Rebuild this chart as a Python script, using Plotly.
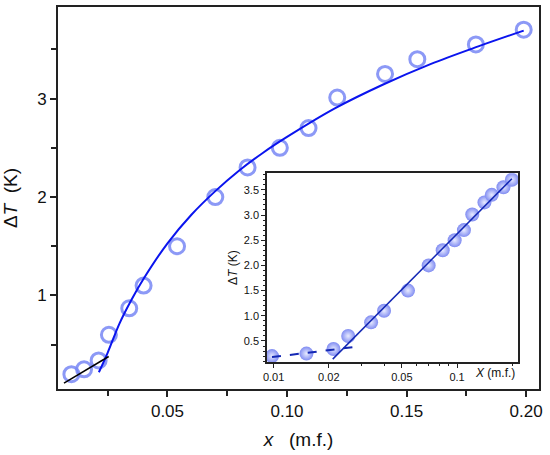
import plotly.graph_objects as go

# measured points (mole fraction, K)
x_data = [0.0098, 0.0151, 0.0212, 0.0255, 0.0340, 0.0400, 0.0540, 0.0700,
          0.0835, 0.0970, 0.1090, 0.1210, 0.1410, 0.1545, 0.1790, 0.1990]
dT_data = [0.20, 0.25, 0.34, 0.60, 0.87, 1.10, 1.50, 2.00,
           2.30, 2.50, 2.70, 3.01, 3.25, 3.40, 3.55, 3.70]

# fitted curve in main panel
fit_x = [0.0213, 0.025, 0.03, 0.035, 0.04, 0.05, 0.06, 0.07,
         0.08, 0.09, 0.10, 0.12, 0.14, 0.16, 0.18, 0.199]
fit_y = [0.22, 0.42, 0.72, 0.96, 1.17, 1.53, 1.82, 2.06,
         2.27, 2.45, 2.61, 2.90, 3.14, 3.35, 3.53, 3.69]

# low-concentration line (main panel)
low_x = [0.0067, 0.0254]
low_y = [0.11, 0.38]

# inset lines (log x)
ins_fit_x = [0.021, 0.199]
ins_fit_y = [0.14, 3.72]
ins_low_x = [0.0098, 0.029]
ins_low_y = [0.18, 0.39]

circ = "rgba(120,135,245,0.85)"
blue = "#0a14ee"
dark = "#1428b4"
font = "Liberation Sans, Arial, sans-serif"

fig = go.Figure()

fig.add_trace(go.Scatter(x=x_data, y=dT_data, mode="markers",
                         marker=dict(symbol="circle-open", size=15, color=circ,
                                     line=dict(width=3, color=circ)),
                         xaxis="x", yaxis="y"))
fig.add_trace(go.Scatter(x=fit_x, y=fit_y, mode="lines", line_shape="spline",
                         line=dict(color=blue, width=2), xaxis="x", yaxis="y"))
fig.add_trace(go.Scatter(x=low_x, y=low_y, mode="lines",
                         line=dict(color="black", width=1.5), xaxis="x", yaxis="y"))

fig.add_trace(go.Scatter(x=x_data, y=dT_data, mode="markers",
                         marker=dict(size=14, color="rgb(128,140,242)",
                                     gradient=dict(type="radial", color="rgb(232,235,255)"),
                                     line=dict(width=0)),
                         xaxis="x2", yaxis="y2"))
fig.add_trace(go.Scatter(x=ins_fit_x, y=ins_fit_y, mode="lines",
                         line=dict(color=dark, width=1.5), xaxis="x2", yaxis="y2"))
fig.add_trace(go.Scatter(x=ins_low_x, y=ins_low_y, mode="lines",
                         line=dict(color=dark, width=2, dash="dash"), xaxis="x2", yaxis="y2"))

axis_common = dict(showline=True, linecolor="#222", mirror=True, showgrid=False,
                   zeroline=False, ticks="outside", tickcolor="#222")

fig.update_layout(
    width=550, height=455,
    margin=dict(l=58, r=11, t=5, b=66),
    paper_bgcolor="white", plot_bgcolor="white",
    showlegend=False,
    font=dict(family=font, color="#111"),
    xaxis=dict(**axis_common, linewidth=2, range=[0.0042, 0.2054],
               tickvals=[0.05, 0.10, 0.15, 0.20], tickformat=".2f",
               ticklen=6, tickwidth=1.5, tickfont=dict(size=17),
               minor=dict(dtick=0.025, tick0=0, ticks="outside", ticklen=5, tickcolor="#222"),
               title=dict(text="<i>x</i>   (m.f.)", font=dict(size=19), standoff=12)),
    yaxis=dict(**axis_common, linewidth=2, range=[0.05, 3.93],
               tickvals=[1, 2, 3], ticklen=6, tickwidth=1.5, tickfont=dict(size=17),
               minor=dict(dtick=0.5, tick0=0, ticks="outside", ticklen=5, tickcolor="#222"),
               title=dict(text="Δ<i>T</i>  (K)", font=dict(size=19), standoff=14)),
    xaxis2=dict(**axis_common, linewidth=1.5, type="log", anchor="y2",
                domain=[0.4345, 0.9563], range=[-2.036, -0.668],
                tickvals=[0.01, 0.02, 0.05, 0.1], ticktext=["0.01", "0.02", "0.05", "0.1"],
                ticklen=4, tickwidth=1, tickfont=dict(size=11),
                minor=dict(dtick="D1", ticks="outside", ticklen=2.5, tickcolor="#222")),
    yaxis2=dict(**axis_common, linewidth=1.5, anchor="x2",
                domain=[0.0703, 0.565], range=[0.08, 3.83],
                dtick=0.5, tick0=0, tickformat=".1f", ticklen=4, tickwidth=1,
                tickfont=dict(size=11),
                minor=dict(dtick=0.1, ticks="outside", ticklen=2, tickcolor="#222"),
                title=dict(text="Δ<i>T</i> (K)", font=dict(size=12), standoff=4)),
    annotations=[dict(text="<i>X</i> (m.f.)", xref="paper", yref="paper",
                      x=0.955, y=0.042, xanchor="right", yanchor="middle",
                      showarrow=False, font=dict(size=12))],
)

fig.write_html("out.html", config={"displayModeBar": False},
               post_script="document.body.style.margin='0';")
